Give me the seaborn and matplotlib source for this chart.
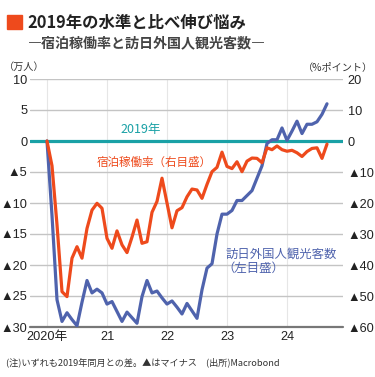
import numpy as np
import pandas as pd
import matplotlib
matplotlib.use("Agg")
import matplotlib.pyplot as plt
import seaborn as sns
from matplotlib.patches import Rectangle

sns.set_theme(style="white")
plt.rcParams['font.family'] = ['Noto Sans CJK JP', 'DejaVu Sans']

# ---- data (monthly, Jan 2020 .. Sep 2024) ----
visitors = [0, -12, -25.6, -29.1, -27.7, -28.8, -29.8, -26.0, -22.5, -24.5,
            -23.9, -24.5, -26.3, -25.9, -27.5, -29.1, -27.6, -28.5, -29.4, -25.1,
            -22.5, -24.5, -24.2, -25.3, -26.3, -25.8, -26.8, -27.9, -26.2, -27.4,
            -28.6, -24.0, -20.5, -19.8, -15.0, -11.8, -11.8, -11.2, -9.6, -9.6,
            -8.8, -8.0, -6.0, -4.0, -0.4, 0.2, 0.2, 2.1, 0.1, 1.6,
            3.2, 1.2, 2.7, 2.7, 3.1, 4.3, 6.0]
occupancy = [0, -8, -27, -48.6, -50.2, -37.8, -34.1, -37.8, -28.2, -22.3,
             -20.1, -21.7, -31.4, -34.6, -29.0, -33.5, -36.0, -31.0, -25.5, -33.0,
             -32.5, -23.0, -19.5, -12.0, -20.0, -28.0, -22.5, -21.5, -18.0, -15.5,
             -15.8, -18.5, -14.0, -9.9, -8.5, -3.6, -8.2, -8.9, -6.7, -9.9,
             -6.5, -5.5, -5.6, -7.0, -2.2, -2.8, -1.6, -2.8, -3.3, -3.0,
             -3.8, -5.0, -3.4, -2.4, -2.2, -5.6, -1.0]
year_ticks = [2020, 2021, 2022, 2023, 2024]
year_labels = ["2020年", "21", "22", "23", "24"]
left_ticks = [10, 5, 0, -5, -10, -15, -20, -25, -30]
right_ticks = [20, 10, 0, -10, -20, -30, -40, -50, -60]

months = np.arange(len(visitors))
df = pd.DataFrame({
    "t": 2020 + months / 12.0,
    "visitors": visitors,
    "occupancy": occupancy,
})

W, H = 375, 377
fig = plt.figure(figsize=(W / 100, H / 100), dpi=100)
fig.patch.set_facecolor("white")

def fx(px):
    return px / W

def fy(py):
    return 1 - py / H

ax = fig.add_axes([fx(30), fy(327), fx(343) - fx(30), fy(79) - fy(327)])
ax2 = ax.twinx()

BLUE = "#4f63ad"
ORANGE = "#ee4a1c"
TEAL = "#1aa1a6"
GRID = "#c4c4c4"
TICKFONT = ['Liberation Sans', 'Noto Sans CJK JP']

ax.set_ylim(-30, 10)
ax2.set_ylim(-60, 20)
ax.set_xlim(2020 - 3.4 / 12, 2020 + 59.2 / 12)

def lab(v):
    return ("▲" + str(-v)) if v < 0 else str(v)

ax.set_yticks(left_ticks)
ax.set_yticklabels([lab(v) for v in left_ticks], family=TICKFONT)
ax2.set_yticks(right_ticks)
ax2.set_yticklabels([lab(v) for v in right_ticks], family=TICKFONT)
ax.set_xticks(year_ticks)
ax.set_xticklabels(year_labels, family=TICKFONT)

ax.grid(axis="y", color=GRID, lw=1.0)
ax.grid(axis="x", color="#e6e6e6", lw=0.8)
ax.set_axisbelow(True)
for a in (ax, ax2):
    for s in ["top", "left", "right", "bottom"]:
        a.spines[s].set_visible(False)
ax.axhline(-30, color="#777777", lw=1.6, zorder=1, clip_on=False)

ax.tick_params(axis="y", length=0, pad=2, labelsize=9.2, labelcolor="#222222")
ax2.tick_params(axis="y", length=0, pad=3.5, labelsize=9.2, labelcolor="#222222")
ax.tick_params(axis="x", length=0, pad=3, labelsize=9.2, labelcolor="#222222")

ax.axhline(0, color=TEAL, lw=2.3, zorder=2)

sns.lineplot(data=df, x="t", y="visitors", ax=ax, color=BLUE, lw=2.3, zorder=3)
sns.lineplot(data=df, x="t", y="occupancy", ax=ax2, color=ORANGE, lw=2.3, zorder=4)
ax.set_xlabel("")
ax.set_ylabel("")
ax2.set_ylabel("")
ax2.set_zorder(ax.get_zorder() + 1)
ax2.patch.set_visible(False)

# titles
fig.patches.append(Rectangle((fx(7), fy(29)), fx(22) - fx(7), fy(15) - fy(29),
                             transform=fig.transFigure, color=ORANGE, zorder=5))
fig.text(fx(27), fy(22.5), "2019年の水準と比べ伸び悩み", fontsize=11.8,
         fontweight="bold", color="#222222", va="center", ha="left")
fig.text(fx(28), fy(43), "―宿泊稼働率と訪日外国人観光客数―", fontsize=10.1,
         fontweight="bold", color="#444444", va="center", ha="left")
fig.text(fx(4), fy(67), "（万人）", fontsize=7.3, color="#333333", va="center", ha="left")
fig.text(fx(373), fy(67), "（%ポイント）", fontsize=7.3, color="#333333", va="center", ha="right")

# series labels
fig.text(fx(141), fy(130), "2019年", fontsize=9, color=TEAL, va="center", ha="center")
fig.text(fx(97), fy(162), "宿泊稼働率（右目盛）", fontsize=8.3, color=ORANGE, va="center", ha="left")
fig.text(fx(225), fy(254), "訪日外国人観光客数", fontsize=8.9, color=BLUE, va="center", ha="left")
fig.text(fx(222), fy(268), "（左目盛）", fontsize=8.9, color=BLUE, va="center", ha="left")

fig.text(fx(6), fy(362), "(注)いずれも2019年同月との差。▲はマイナス　(出所)Macrobond",
         fontsize=6.6, color="#333333", va="center", ha="left")

fig.savefig("out.png", dpi=100, facecolor="white")
